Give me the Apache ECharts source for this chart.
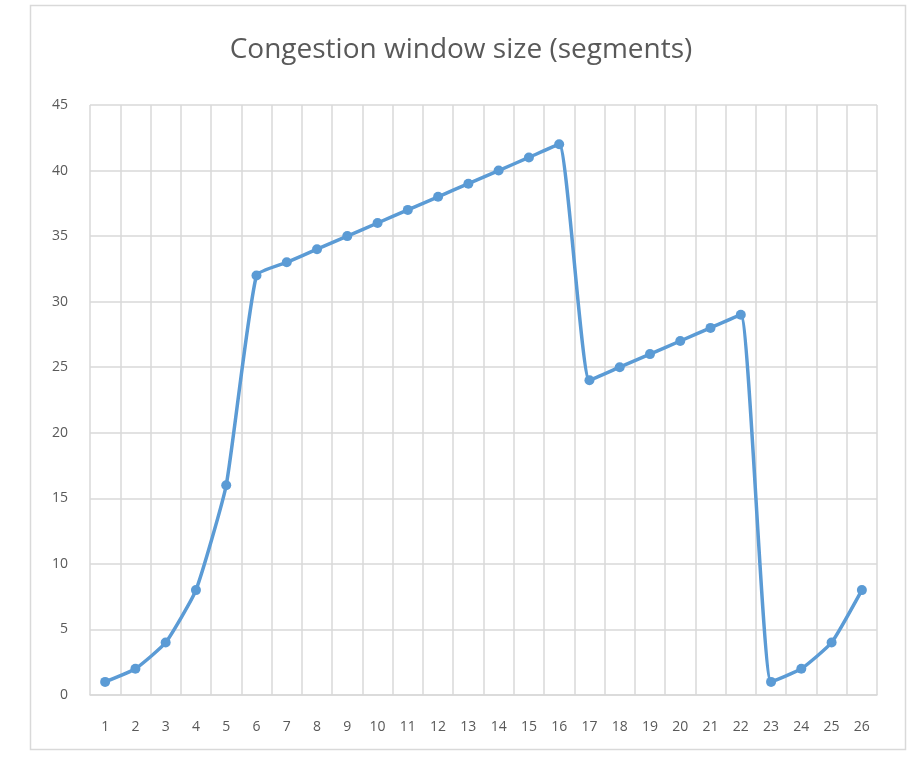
<!DOCTYPE html>
<html><head><meta charset="utf-8">
<script src="https://cdn.jsdelivr.net/npm/echarts@6/dist/echarts.min.js"></script>
<style>html,body{margin:0;padding:0;background:#fff}#c{width:922px;height:768px}</style>
</head><body><div id="c"></div>
<script>
const categories = ['1','2','3','4','5','6','7','8','9','10','11','12','13','14','15','16','17','18','19','20','21','22','23','24','25','26'];
const cwnd = [1,2,4,8,16,32,33,34,35,36,37,38,39,40,41,42,24,25,26,27,28,29,1,2,4,8];
const yTicks = {min:0, max:45, interval:5};
const titleText = 'Congestion window size (segments)';

const chart = echarts.init(document.getElementById('c'));
chart.setOption({
  animation:false,
  backgroundColor:'#fff',
  graphic:[{type:'rect',shape:{x:30.5,y:5.5,width:875,height:744},style:{fill:'none',stroke:'#d9d9d9',lineWidth:1.5},z:-1}],
  title:{text:titleText,left:'center',top:31,textStyle:{fontFamily:'Open Sans',fontWeight:'normal',fontSize:28,color:'#595959'}},
  grid:{left:90,right:45,top:105,bottom:73,containLabel:false},
  xAxis:{type:'category',data:categories,boundaryGap:true,
    axisLine:{lineStyle:{color:'#d9d9d9',width:1.5}},
    axisTick:{show:false},
    axisLabel:{color:'#595959',fontFamily:'Open Sans',fontSize:14,margin:25,interval:0},
    splitLine:{show:true,interval:0,lineStyle:{color:'#d9d9d9',width:1.5}}},
  yAxis:{type:'value',min:yTicks.min,max:yTicks.max,interval:yTicks.interval,
    axisLine:{show:false},axisTick:{show:false},
    axisLabel:{color:'#595959',fontFamily:'Open Sans',fontSize:14,margin:22},
    splitLine:{lineStyle:{color:'#d9d9d9',width:1.5}}},
  series:[{type:'line',data:cwnd,smooth:0.15,symbol:'circle',symbolSize:10,
    lineStyle:{color:'#5b9bd5',width:3.5},itemStyle:{color:'#5b9bd5'}}]
});
</script></body></html>
